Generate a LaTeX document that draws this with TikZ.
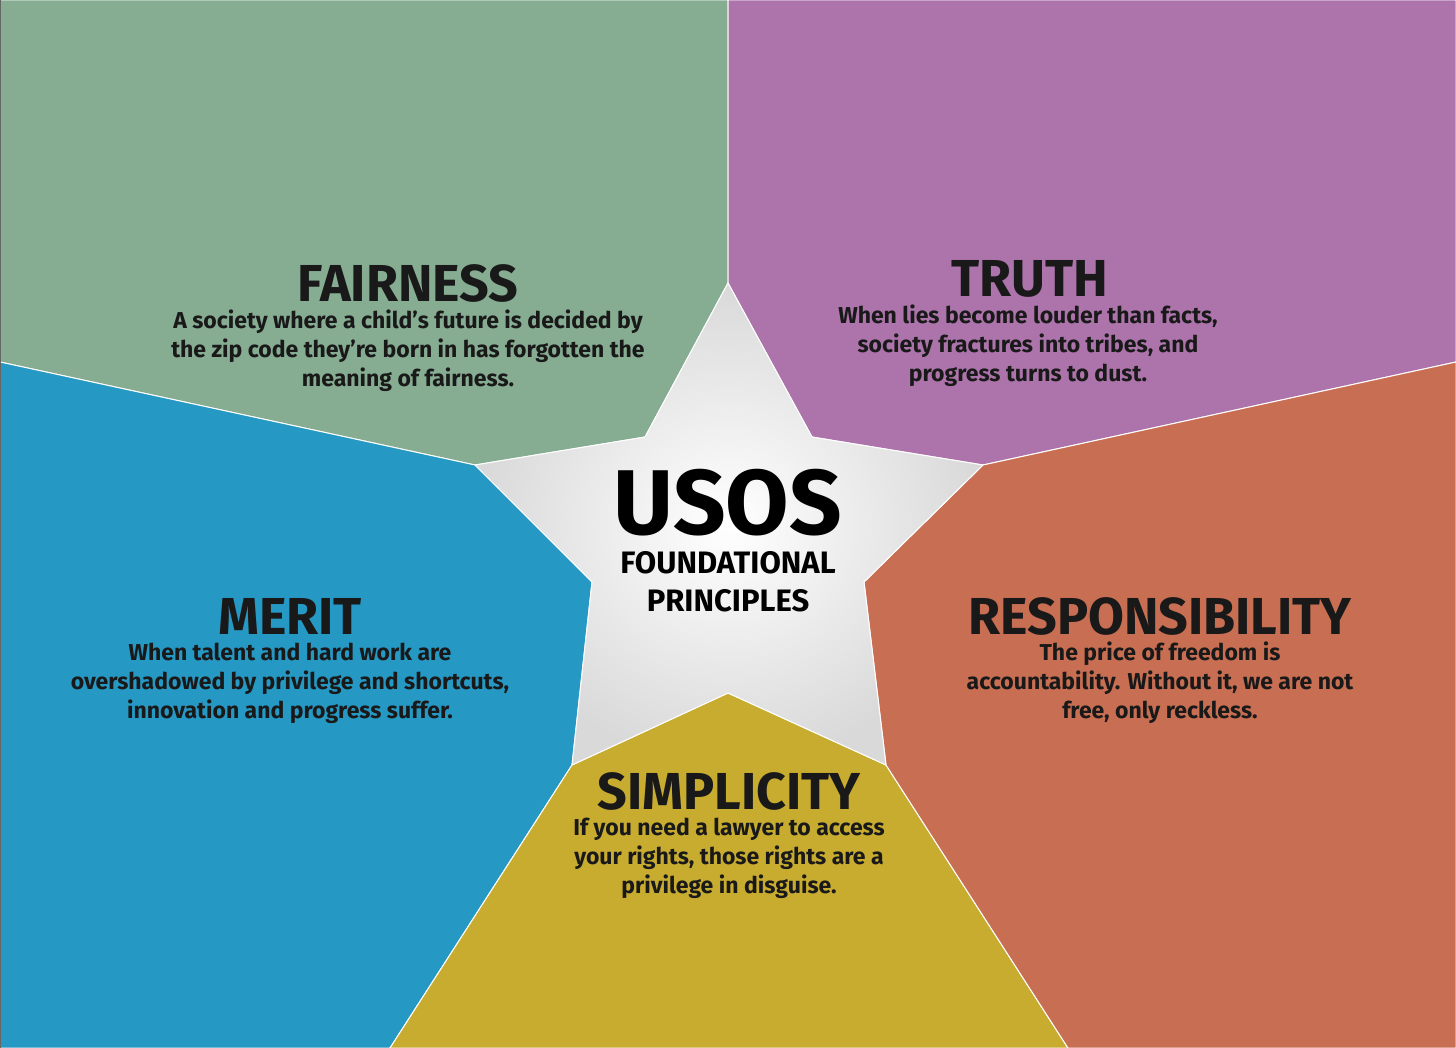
\documentclass[tikz,border=0pt]{standalone}
\usepackage{fontspec}
\setmainfont{Fira Sans}
\begin{document}
\begin{tikzpicture}[x=1pt,y=-1pt,
  ttl/.style={font=\fontsize{52}{56}\selectfont\bfseries,text=black!90,align=center,inner sep=0pt,anchor=base},
  bdy/.style={font=\fontsize{23}{29}\selectfont\bfseries,text=black!90,align=center,inner sep=0pt,anchor=north},
  region/.style={draw=white,line width=1pt}]
\useasboundingbox (0,0) rectangle (1456,1048);
\coordinate (T) at (728,283);
\coordinate (IL) at (645,437);
\coordinate (L) at (475,465);
\coordinate (ILL) at (592,582);
\coordinate (BL) at (572,765);
\coordinate (B) at (728,693);
\coordinate (BR) at (886,765);
\coordinate (IRR) at (864,582);
\coordinate (R) at (983,465);
\coordinate (IR) at (812,437);
% regions
\fill[region,fill={rgb,255:red,134;green,172;blue,146}] (0,0) -- (728,0) -- (T) -- (IL) -- (L) -- (0,362) -- cycle;
\fill[region,fill={rgb,255:red,172;green,116;blue,170}] (728,0) -- (1456,0) -- (1456,362) -- (R) -- (IR) -- (T) -- cycle;
\fill[region,fill={rgb,255:red,38;green,152;blue,196}] (0,362) -- (L) -- (ILL) -- (BL) -- (390,1048) -- (0,1048) -- cycle;
\fill[region,fill={rgb,255:red,200;green,172;blue,48}] (BL) -- (B) -- (BR) -- (1068,1048) -- (390,1048) -- cycle;
\fill[region,fill={rgb,255:red,200;green,110;blue,82}] (1456,362) -- (1456,1048) -- (1068,1048) -- (BR) -- (IRR) -- (R) -- cycle;
% star
\shade[inner color=white,outer color=black!15,draw=white,line width=1pt] (T) -- (IR) -- (R) -- (IRR) -- (BR) -- (B) -- (BL) -- (ILL) -- (L) -- (IL) -- cycle;
\draw[black!60,line width=1pt] (0,0) rectangle (1456,1048);
% texts
\node[font=\fontsize{92}{92}\selectfont\bfseries,inner sep=0pt,anchor=base] (usos) at (728,534) {USOS};
\node[font=\fontsize{31}{38}\selectfont\bfseries,align=center,inner sep=0pt,anchor=north] (fp) at (728,551) {FOUNDATIONAL\\PRINCIPLES};
\node[ttl] (f) at (408,302) {FAIRNESS};
\node[bdy] (fb) at (408,310) {A society where a child's future is decided by\\the zip code they’re born in has forgotten the\\meaning of fairness.};
\node[ttl] (t) at (1030,297) {TRUTH};
\node[bdy] (tb) at (1028,305) {When lies become louder than facts,\\society fractures into tribes, and\\progress turns to dust.};
\node[ttl] (m) at (290,634) {MERIT};
\node[bdy] (mb) at (290,643) {When talent and hard work are\\overshadowed by privilege and shortcuts,\\innovation and progress suffer.};
\node[ttl] (r) at (1160,634) {RESPONSIBILITY};
\node[bdy] (rb) at (1160,642) {The price of freedom is\\accountability. Without it, we are not\\free, only reckless.};
\node[ttl] (s) at (729,809) {SIMPLICITY};
\node[bdy] (sb) at (729,818) {If you need a lawyer to access\\your rights, those rights are a\\privilege in disguise.};
\end{tikzpicture}
\end{document}
